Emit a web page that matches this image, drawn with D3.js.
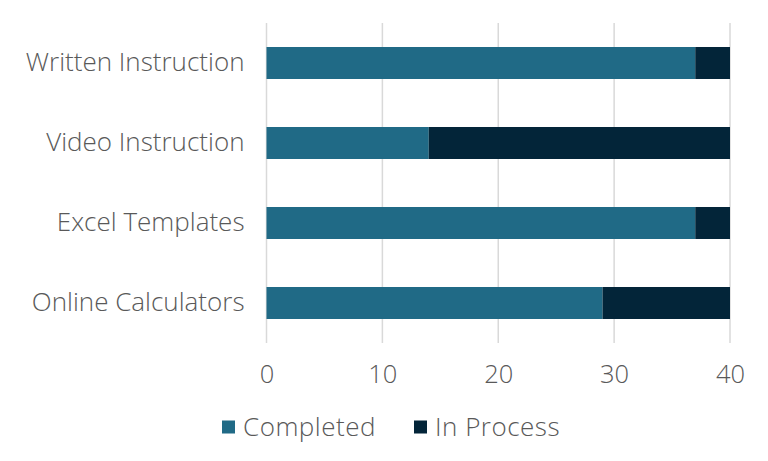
<!DOCTYPE html>
<html><head><meta charset="utf-8">
<script src="https://cdn.jsdelivr.net/npm/d3@7"></script>
<style>html,body{margin:0;padding:0;background:#fff;}svg{display:block;}</style>
</head><body><svg id="c" width="768" height="461"></svg>
<script>
const categories = ["Written Instruction", "Video Instruction", "Excel Templates", "Online Calculators"];
const completed = [37, 14, 37, 29];
const inProcess = [3, 26, 3, 11];
const seriesNames = ["Completed", "In Process"];
const seriesColors = ["#206A86", "#032539"];
const xTicks = [0, 10, 20, 30, 40];

const svg = d3.select("#c");
const font = "'Open Sans', Lato, sans-serif";
const fw = 300;
const textColor = "#595959";
const m = {left: 266.5, right: 38, top: 23, bottom: 118};
const W = 768, H = 461;

const x = d3.scaleLinear().domain([0, 40]).range([m.left, W - m.right]);
const y = d3.scaleBand().domain(categories).range([m.top, H - m.bottom]).paddingInner(0.6).paddingOuter(0.3);

const data = categories.map((c, i) => ({cat: c, Completed: completed[i], "In Process": inProcess[i]}));
const stacked = d3.stack().keys(seriesNames)(data);

// gridlines
svg.append("g").selectAll("line").data(xTicks).join("line")
  .attr("x1", d => x(d)).attr("x2", d => x(d))
  .attr("y1", m.top).attr("y2", H - m.bottom)
  .attr("stroke", "#d9d9d9").attr("stroke-width", 1.5);

// bars
svg.append("g").selectAll("g").data(stacked).join("g")
  .attr("fill", (d, i) => seriesColors[i])
  .selectAll("rect").data(d => d).join("rect")
  .attr("x", d => x(d[0])).attr("width", d => x(d[1]) - x(d[0]))
  .attr("y", d => y(d.data.cat)).attr("height", y.bandwidth());

// y labels
const yAxis = d3.axisLeft(y).tickSize(0).tickPadding(22);
const gy = svg.append("g").attr("transform", `translate(${m.left},0)`).call(yAxis);
gy.select(".domain").remove();
gy.selectAll("text").attr("font-family", font).attr("font-weight", fw).attr("font-size", 26).attr("fill", textColor);

// x labels
const xAxis = d3.axisBottom(x).tickValues(xTicks).tickSize(0).tickPadding(22);
const gx = svg.append("g").attr("transform", `translate(0,${H - m.bottom})`).call(xAxis);
gx.select(".domain").remove();
gx.selectAll("text").attr("font-family", font).attr("font-weight", fw).attr("font-size", 25.5).attr("fill", textColor);

// legend
const legX = [222, 414];
const lg = svg.append("g").selectAll("g").data(seriesNames).join("g")
  .attr("transform", (d, i) => `translate(${legX[i]},427)`);
lg.append("rect").attr("x", 0).attr("y", -6.5).attr("width", 13).attr("height", 13)
  .attr("fill", (d, i) => seriesColors[i]);
lg.append("text").attr("x", 21).attr("y", 0).attr("dy", "0.35em")
  .attr("font-family", font).attr("font-weight", fw).attr("font-size", 26).attr("letter-spacing", 0.5)
  .attr("fill", textColor).text(d => d);
</script></body></html>
